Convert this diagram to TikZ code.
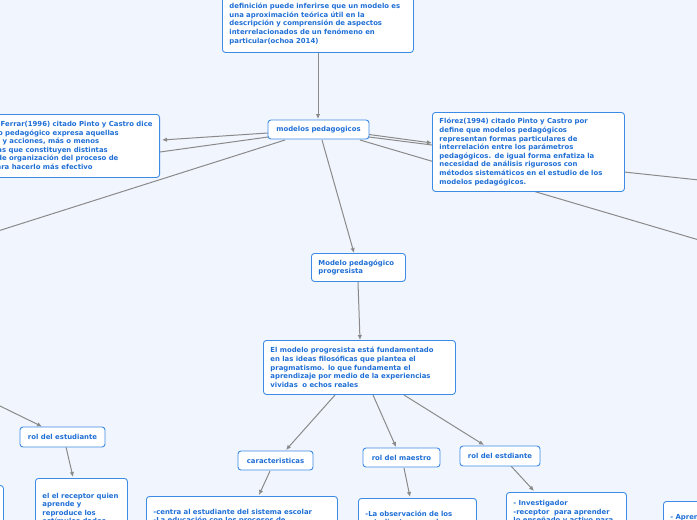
\documentclass[tikz,border=0pt]{standalone}
\usepackage{fontspec}
\setmainfont{DejaVu Sans}
\usetikzlibrary{arrows.meta,backgrounds}
\definecolor{bgc}{HTML}{F1F5FD}
\definecolor{txc}{HTML}{1F6FD6}
\definecolor{bdc}{HTML}{3C8CE6}
\definecolor{lnc}{HTML}{8A8A8A}
\tikzset{
 box/.style={draw=bdc,line width=0.9pt,fill=white,rounded corners=3pt,text=txc,font=\fontsize{6.9}{8.6}\selectfont\bfseries,align=left,inner xsep=7pt,inner ysep=5pt,anchor=north west},
 con/.style={draw=lnc,line width=1pt,-{Latex[length=5pt,width=4.5pt]}},
 lin/.style={draw=lnc,line width=1pt},
}
\begin{document}
\begin{tikzpicture}[x=1pt,y=-1pt]
\begin{scope}[on background layer]
\fill[bgc] (0,0) rectangle (697,520);
\end{scope}
\useasboundingbox (0,0) rectangle (697,520);
\node[box,minimum width=191pt,minimum height=57pt,text width=177pt,inner ysep=7pt] (top) at (222,-5) {definición puede inferirse que un modelo es\\una aproximación teórica útil en la\\descripción y comprensión de aspectos\\interrelacionados de un fenómeno en\\particular(ochoa 2014)};
\node[box,minimum width=101pt,minimum height=19pt,align=center,anchor=center] (mp) at (318.5,129.5) {modelos pedagogicos};
\node[box,minimum height=63pt,anchor=north east] (lb) at (160,114) {Flórez Ochoa Ferrar(1996) citado Pinto y Castro dice\\que el modelo pedagógico expresa aquellas\\concepciones y acciones, más o menos\\sistematizadas que constituyen distintas\\alternativas de organización del proceso de\\enseñanza para hacerlo más efectivo};
\node[box,minimum width=192pt,minimum height=79pt,text width=178pt] (fl) at (432,112) {Flórez(1994) citado Pinto y Castro por\\define que modelos pedagógicos\\representan formas particulares de\\interrelación entre los parámetros\\pedagógicos. de igual forma enfatiza la\\necesidad de análisis rigurosos con\\métodos sistemáticos en el estudio de los\\modelos pedagógicos.};
\node[box,minimum width=94pt,minimum height=28pt,text width=80pt] (prog) at (311,253) {Modelo pedagógico\\progresista};
\node[box,minimum width=192pt,minimum height=54pt,text width=178pt] (em) at (263,340) {El modelo progresista está fundamentado\\en las ideas filosóficas que plantea el\\pragmatismo. lo que fundamenta el\\aprendizaje por medio de la experiencias\\vividas\ \ o echos reales};
\node[box,minimum width=85pt,minimum height=20pt,align=center,anchor=center] (re1) at (62.5,437) {rol del estudiante};
\node[box,minimum width=75pt,minimum height=19pt,align=center,anchor=center] (car) at (275.5,460.5) {caracteristicas};
\node[box,minimum width=77pt,minimum height=19pt,align=center,anchor=center] (rm) at (401.5,457.5) {rol del maestro};
\node[box,minimum width=80pt,minimum height=20pt,align=center,anchor=center] (re2) at (500,456) {rol del estdiante};
\node[box,minimum width=92pt,minimum height=60pt,text width=78pt] (rec) at (35,478) {el el receptor quien\\aprende y\\reproduce los\\estímulos dados};
\node[box,minimum width=191pt,minimum height=40pt,text width=177pt] (cen) at (146,496) {-centra al estudiante del sistema escolar\\-La educación con los procesos de};
\node[box,minimum width=118pt,minimum height=40pt,text width=104pt] (obs) at (358,498) {-La observación de los\\estudiantes para dar};
\node[box,minimum width=120pt,minimum height=40pt,text width=106pt] (inv) at (506,492) {- Investigador\\-receptor\ \ para aprender\\lo enseñado y activo para};
\node[box,minimum width=80pt,minimum height=40pt,text width=66pt] (apr) at (663,501) {- Aprendizaje\\interesado};
\node[box,minimum width=12pt,minimum height=40pt] (lp) at (-11,485) {};
\coordinate (offl) at (-2,231);
\coordinate (offl2) at (-2,405);
\coordinate (offr1) at (699,180);
\coordinate (offr2) at (699,240);
\begin{scope}[on background layer]
\draw[con] (top.south -| 318,0) -- (318,119);
\draw[con] (268,133) -- (162,140);
\draw[lin] (268,137) -- (160,152);
\draw[lin] (285,140) -- (offl);
\draw[con] (offl2) -- (re1.north west -| 42,0);
\draw[con] (369,134.5) -- (fl.west |- 0,143);
\draw[lin] (369,137) -- (432,145);
\draw[lin] (624,172) -- (offr1);
\draw[lin] (360,140) -- (offr2);
\draw[con] (322,140) -- (prog.north -| 354,0);
\draw[con] (358,282) -- (em.north -| 360,0);
\draw[con] (335,395) -- (286,450);
\draw[con] (373,395) -- (396,447);
\draw[con] (404,395) -- (484,445);
\draw[con] (270,471) -- (259,495);
\draw[con] (404,468) -- (410,497);
\draw[con] (511,466) -- (534,491);
\draw[con] (66,447) -- (73,477);
\end{scope}
\end{tikzpicture}
\end{document}
